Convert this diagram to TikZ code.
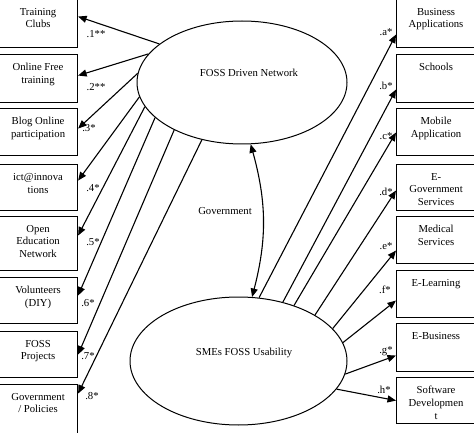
\documentclass[tikz,border=0pt]{standalone}
\usepackage{fontspec}
\setmainfont{Liberation Serif}
\usetikzlibrary{arrows.meta,shapes.geometric}
\begin{document}
\begin{tikzpicture}[x=1pt,y=-1pt,
  every node/.style={font=\fontsize{10.7}{12.7}\selectfont},
  box/.style={draw, line width=1.1pt, rectangle, minimum width=79pt, inner sep=0pt, anchor=north west},
  lbl/.style={anchor=north, yshift=-9pt, align=center, inner sep=0pt},
  oval/.style={draw, ellipse, line width=1pt, inner sep=0pt},
  arr/.style={line width=1.1pt, -{Triangle[length=8.5pt,width=7pt]}},
  darr/.style={line width=1.1pt, {Triangle[length=8.5pt,width=7pt]}-{Triangle[length=8.5pt,width=7pt]}},
  coef/.style={anchor=base, inner sep=0pt}]
\useasboundingbox (0,0) rectangle (474,433);
% left boxes
\node[box, minimum height=48pt, label={[lbl]north:Training\\Clubs}] (l1) at (-2,-1) {};
\node[box, minimum height=48pt, label={[lbl]north:Online Free\\training}] (l2) at (-2,54) {};
\node[box, minimum height=47pt, label={[lbl]north:Blog Online\\participation}] (l3) at (-2,108) {};
\node[box, minimum height=46pt, label={[lbl]north:ict@innova\\tions}] (l4) at (-2,164) {};
\node[box, minimum height=54pt, label={[lbl]north:Open\\Education\\Network}] (l5) at (-2,216) {};
\node[box, minimum height=46pt, label={[lbl]north:Volunteers\\(DIY)}] (l6) at (-2,277) {};
\node[box, minimum height=46pt, label={[lbl]north:FOSS\\Projects}] (l7) at (-2,331) {};
\node[box, minimum height=56pt, label={[lbl]north:Government\\/ Policies}] (l8) at (-2,384) {};
% right boxes
\node[box, minimum height=48pt, label={[lbl]north:Business\\Applications}] (ra) at (396,-1) {};
\node[box, minimum height=48pt, label={[lbl]north:Schools}] (rb) at (396,54) {};
\node[box, minimum height=47pt, label={[lbl]north:Mobile\\Application}] (rc) at (396,108) {};
\node[box, minimum height=46pt, label={[lbl]north:E-\\Government\\Services}] (rd) at (396,164) {};
\node[box, minimum height=47pt, label={[lbl]north:Medical\\Services}] (re) at (396,216) {};
\node[box, minimum height=47pt, label={[lbl]north:E-Learning}] (rf) at (396,270) {};
\node[box, minimum height=48pt, label={[lbl]north:E-Business}] (rg) at (396,323) {};
\node[box, minimum height=46pt, label={[lbl]north:Software\\Developmen\\t}] (rh) at (396,377) {};
% ellipses
\node[oval, minimum width=210pt, minimum height=123pt,
  label={[xshift=7pt,yshift=9.5pt]center:FOSS Driven Network}] (fdn) at (242,82.5) {};
\node[oval, minimum width=217pt, minimum height=128pt,
  label={[xshift=5.5pt,yshift=8pt]center:SMEs FOSS Usability}] (smes) at (238.5,361) {};
\node (gov) at (225,211) {Government};
% left arrows
\draw[arr] (fdn.155.4) -- ([yshift=7pt]l1.east);
\draw[arr] (fdn.163.7) -- ([yshift=3pt]l2.east);
\draw[arr] (fdn.175.8) -- ([yshift=3.5pt]l3.east);
\draw[arr] (fdn.188.1) -- ([yshift=7pt]l4.east);
\draw[arr] (fdn.194.7) -- ([yshift=8pt]l5.east);
\draw[arr] (fdn.202.8) -- ([yshift=5pt]l6.east);
\draw[arr] (fdn.215.6) -- ([yshift=0pt]l7.east);
\draw[arr] (fdn.235.2) -- ([yshift=19pt]l8.east);
% right arrows
\draw[arr] (smes.72.8) -- ([yshift=-11pt]ra.west);
\draw[arr] (smes.53.1) -- ([yshift=-11pt]rb.west);
\draw[arr] (smes.45.3) -- ([yshift=-0.5pt]rc.west);
\draw[arr] (smes.31.5) -- ([yshift=-3pt]rd.west);
\draw[arr] (smes.19.1) -- ([yshift=-10.5pt]re.west);
\draw[arr] (smes.10.4) -- ([yshift=-6.5pt]rf.west);
\draw[arr] (smes.-7.6) -- ([yshift=-8pt]rg.west);
\draw[arr] (smes.-16.8) -- ([yshift=0pt]rh.west);
% government link
\draw[darr] (smes.78) to[bend right=15] (fdn.278);
% coefficients
\node[coef] (c1) at (96,37.5) {.1**};
\node[coef] (c2) at (96,90.5) {.2**};
\node[coef] (c3) at (89,131.5) {.3*};
\node[coef] (c4) at (93,191.5) {.4*};
\node[coef] (c5) at (93,245.5) {.5*};
\node[coef] (c6) at (88,306.5) {.6*};
\node[coef] (c7) at (88,359.5) {.7*};
\node[coef] (c8) at (92,399.5) {.8*};
\node[coef] (ca) at (386,35.5) {.a*};
\node[coef] (cb) at (386,89.5) {.b*};
\node[coef] (cc) at (386,139.5) {.c*};
\node[coef] (cd) at (386,195.5) {.d*};
\node[coef] (ce) at (386,249.5) {.e*};
\node[coef] (cf) at (385,293.5) {.f*};
\node[coef] (cg) at (386,353.5) {.g*};
\node[coef] (ch) at (384,393.5) {.h*};
\end{tikzpicture}
\end{document}
